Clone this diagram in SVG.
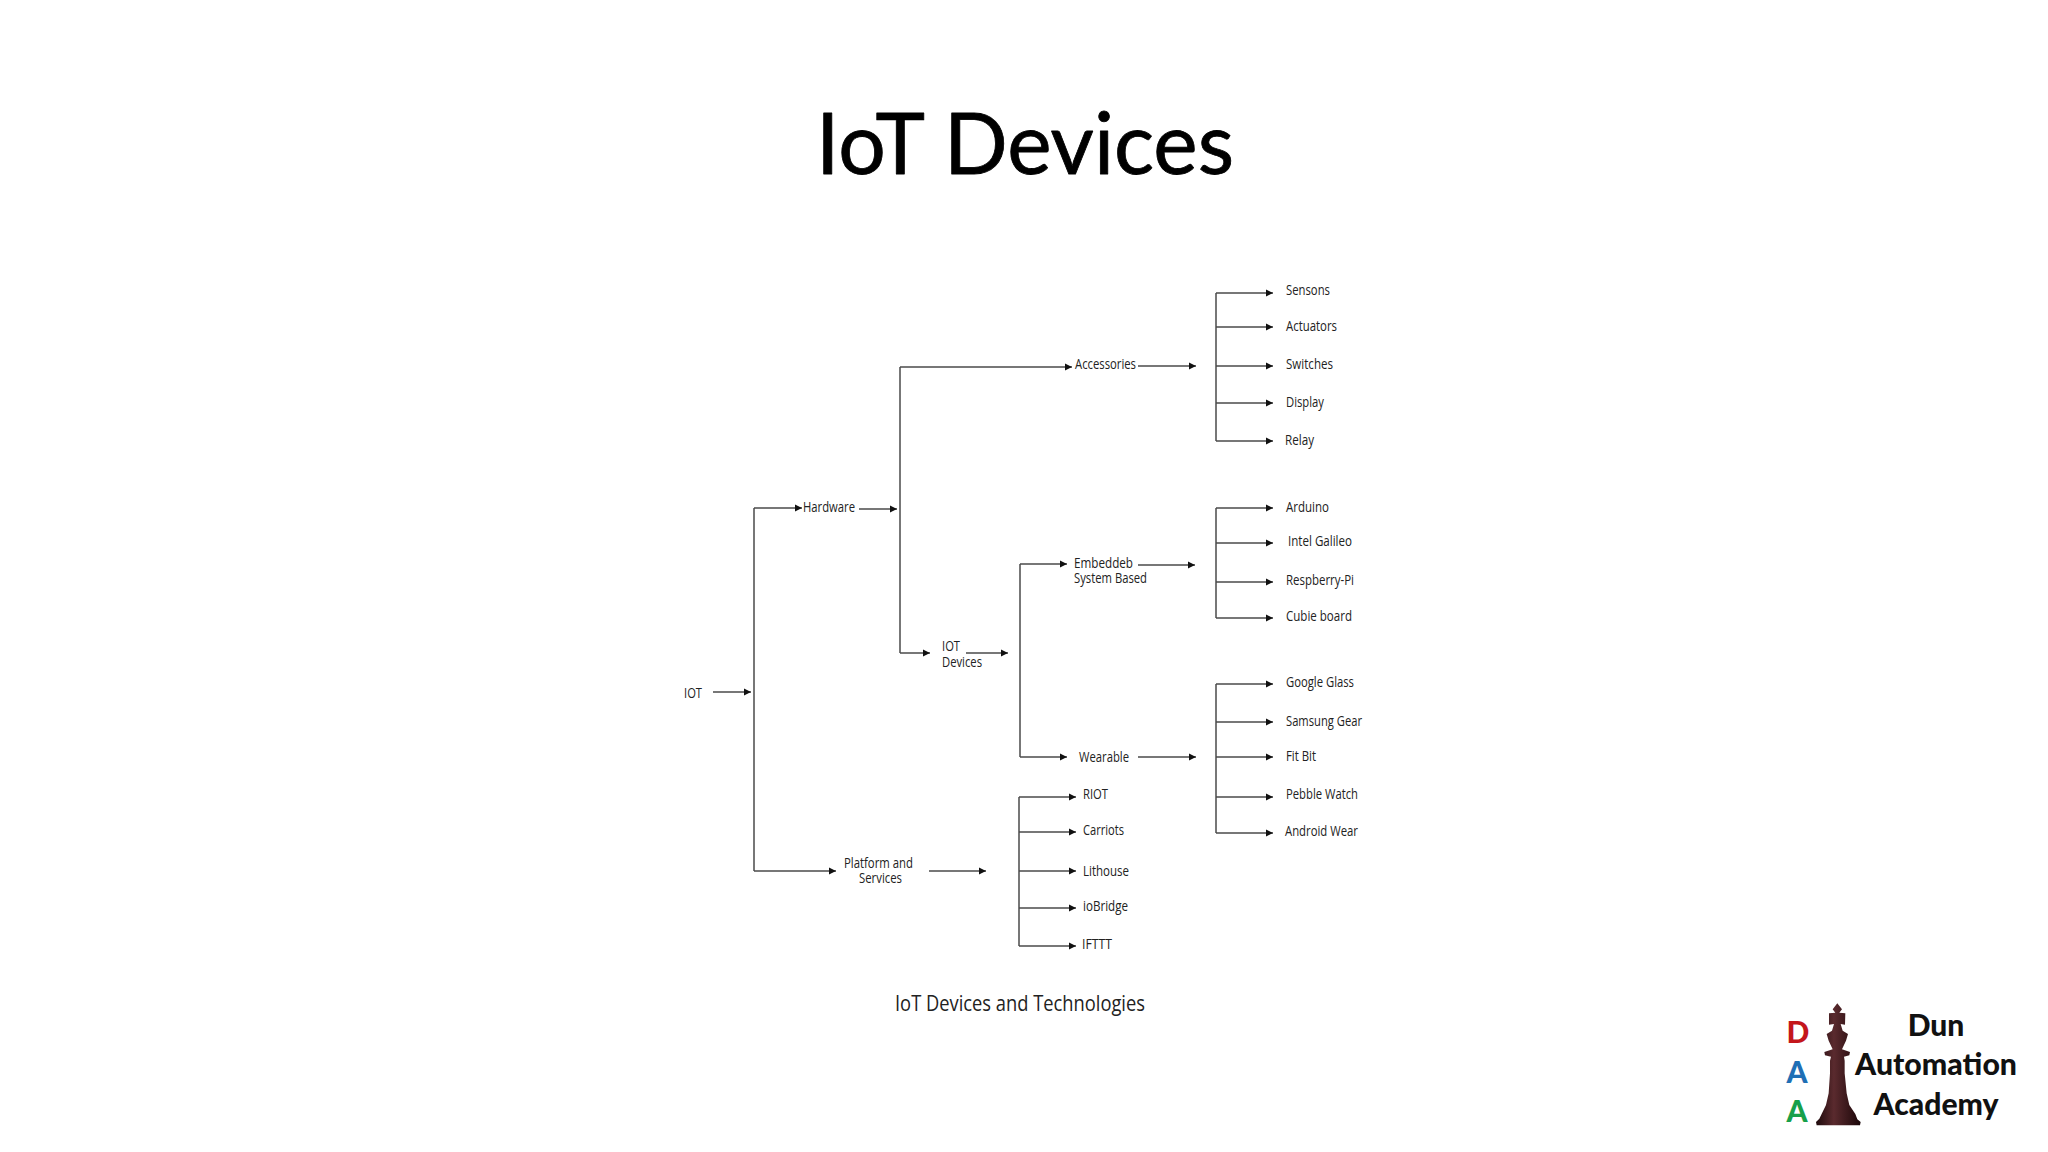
<svg xmlns="http://www.w3.org/2000/svg" width="2048" height="1152" viewBox="0 0 2048 1152">
<style>
.t{font-family:"Open Sans","Noto Sans",sans-serif;font-size:14px;fill:#222}
.title{font-family:Lato,"Open Sans",sans-serif;font-size:86px;fill:#000;stroke:#000;stroke-width:.8;stroke-linejoin:round}
.cap{font-family:"Open Sans",sans-serif;font-size:22px;fill:#222}
.lg{font-family:Lato,"Open Sans",sans-serif;font-size:30px;font-weight:900;fill:#111;text-anchor:middle}
.c line,.c path{fill:none;stroke:#4a4a4a;stroke-width:1.5}
.a{marker-end:url(#ah)}
</style>
<defs>
<marker id="ah" markerUnits="userSpaceOnUse" markerWidth="8" markerHeight="8" refX="7" refY="4" orient="auto"><path d="M0 .5L7 4L0 7.5Z" fill="#111"/></marker>
<linearGradient id="kg" x1="0" x2="1" y1="0" y2="0"><stop offset="0" stop-color="#1e0a0c"/><stop offset=".4" stop-color="#5a2a2e"/><stop offset="1" stop-color="#1a0608"/></linearGradient>
</defs>
<rect width="2048" height="1152" fill="#fff"/>
<text class="title" x="816" y="174" textLength="418" lengthAdjust="spacingAndGlyphs">IoT Devices</text>
<g class="c" id="connectors">
<line class="a" x1="713" y1="692" x2="751" y2="692"/>
<path d="M754 508V871"/>
<line class="a" x1="754" y1="508" x2="802" y2="508"/>
<line class="a" x1="754" y1="871" x2="836" y2="871"/>
<line class="a" x1="859" y1="509" x2="897" y2="509"/>
<path d="M900 367V653"/>
<line class="a" x1="900" y1="367" x2="1072" y2="367"/>
<line class="a" x1="900" y1="653" x2="930" y2="653"/>
<line class="a" x1="1138" y1="366" x2="1196" y2="366"/>
<path d="M1216 293V441"/>
<line class="a" x1="1216" y1="293" x2="1273" y2="293"/>
<line class="a" x1="1216" y1="327" x2="1273" y2="327"/>
<line class="a" x1="1216" y1="366" x2="1273" y2="366"/>
<line class="a" x1="1216" y1="403" x2="1273" y2="403"/>
<line class="a" x1="1216" y1="441" x2="1273" y2="441"/>
<line class="a" x1="966" y1="653" x2="1008" y2="653"/>
<path d="M1020 564V757"/>
<line class="a" x1="1020" y1="564" x2="1067" y2="564"/>
<line class="a" x1="1020" y1="757" x2="1067" y2="757"/>
<line class="a" x1="1138" y1="565" x2="1195" y2="565"/>
<path d="M1216 508V618"/>
<line class="a" x1="1216" y1="508" x2="1273" y2="508"/>
<line class="a" x1="1216" y1="543" x2="1273" y2="543"/>
<line class="a" x1="1216" y1="582" x2="1273" y2="582"/>
<line class="a" x1="1216" y1="618" x2="1273" y2="618"/>
<line class="a" x1="1138" y1="757" x2="1196" y2="757"/>
<path d="M1216 684V833"/>
<line class="a" x1="1216" y1="684" x2="1273" y2="684"/>
<line class="a" x1="1216" y1="722" x2="1273" y2="722"/>
<line class="a" x1="1216" y1="757" x2="1273" y2="757"/>
<line class="a" x1="1216" y1="797" x2="1273" y2="797"/>
<line class="a" x1="1216" y1="833" x2="1273" y2="833"/>
<line class="a" x1="929" y1="871" x2="986" y2="871"/>
<path d="M1019 797V946"/>
<line class="a" x1="1019" y1="797" x2="1076" y2="797"/>
<line class="a" x1="1019" y1="832" x2="1076" y2="832"/>
<line class="a" x1="1019" y1="871" x2="1076" y2="871"/>
<line class="a" x1="1019" y1="908" x2="1076" y2="908"/>
<line class="a" x1="1019" y1="946" x2="1076" y2="946"/>
</g>
<g id="n-iot"><text class="t" x="684" y="698" textLength="18" lengthAdjust="spacingAndGlyphs">IOT</text></g>
<g id="n-hardware"><text class="t" x="803" y="512" textLength="52" lengthAdjust="spacingAndGlyphs">Hardware</text></g>
<g id="n-accessories"><text class="t" x="1075" y="369" textLength="61" lengthAdjust="spacingAndGlyphs">Accessories</text></g>
<g id="n-iot-devices"><text class="t" x="942" y="651" textLength="18" lengthAdjust="spacingAndGlyphs">IOT</text><text class="t" x="942" y="667" textLength="40" lengthAdjust="spacingAndGlyphs">Devices</text></g>
<g id="n-embedded"><text class="t" x="1074" y="568" textLength="59" lengthAdjust="spacingAndGlyphs">Embeddeb</text><text class="t" x="1074" y="583" textLength="73" lengthAdjust="spacingAndGlyphs">System Based</text></g>
<g id="n-wearable"><text class="t" x="1079" y="762" textLength="50" lengthAdjust="spacingAndGlyphs">Wearable</text></g>
<g id="n-platform"><text class="t" x="844" y="868" textLength="69" lengthAdjust="spacingAndGlyphs">Platform and</text><text class="t" x="859" y="883" textLength="43" lengthAdjust="spacingAndGlyphs">Services</text></g>
<g id="n-sensons"><text class="t" x="1286" y="295" textLength="44" lengthAdjust="spacingAndGlyphs">Sensons</text></g>
<g id="n-actuators"><text class="t" x="1286" y="331" textLength="51" lengthAdjust="spacingAndGlyphs">Actuators</text></g>
<g id="n-switches"><text class="t" x="1286" y="369" textLength="47" lengthAdjust="spacingAndGlyphs">Switches</text></g>
<g id="n-display"><text class="t" x="1286" y="407" textLength="38" lengthAdjust="spacingAndGlyphs">Display</text></g>
<g id="n-relay"><text class="t" x="1285" y="445" textLength="29" lengthAdjust="spacingAndGlyphs">Relay</text></g>
<g id="n-arduino"><text class="t" x="1286" y="512" textLength="43" lengthAdjust="spacingAndGlyphs">Arduino</text></g>
<g id="n-galileo"><text class="t" x="1288" y="546" textLength="64" lengthAdjust="spacingAndGlyphs">Intel Galileo</text></g>
<g id="n-respberry"><text class="t" x="1286" y="585" textLength="68" lengthAdjust="spacingAndGlyphs">Respberry-Pi</text></g>
<g id="n-cubie"><text class="t" x="1286" y="621" textLength="66" lengthAdjust="spacingAndGlyphs">Cubie board</text></g>
<g id="n-glass"><text class="t" x="1286" y="687" textLength="68" lengthAdjust="spacingAndGlyphs">Google Glass</text></g>
<g id="n-gear"><text class="t" x="1286" y="726" textLength="76" lengthAdjust="spacingAndGlyphs">Samsung Gear</text></g>
<g id="n-fitbit"><text class="t" x="1286" y="761" textLength="30" lengthAdjust="spacingAndGlyphs">Fit Bit</text></g>
<g id="n-pebble"><text class="t" x="1286" y="799" textLength="72" lengthAdjust="spacingAndGlyphs">Pebble Watch</text></g>
<g id="n-android"><text class="t" x="1285" y="836" textLength="73" lengthAdjust="spacingAndGlyphs">Android Wear</text></g>
<g id="n-riot"><text class="t" x="1083" y="799" textLength="25" lengthAdjust="spacingAndGlyphs">RIOT</text></g>
<g id="n-carriots"><text class="t" x="1083" y="835" textLength="41" lengthAdjust="spacingAndGlyphs">Carriots</text></g>
<g id="n-lithouse"><text class="t" x="1083" y="876" textLength="46" lengthAdjust="spacingAndGlyphs">Lithouse</text></g>
<g id="n-iobridge"><text class="t" x="1083" y="911" textLength="45" lengthAdjust="spacingAndGlyphs">ioBridge</text></g>
<g id="n-ifttt"><text class="t" x="1082" y="949" textLength="30" lengthAdjust="spacingAndGlyphs">IFTTT</text></g>
<text class="cap" x="895" y="1011" textLength="250" lengthAdjust="spacingAndGlyphs">IoT Devices and Technologies</text>
<g id="logo">
<text class="lg" x="1798" y="1043" style="fill:#c4161c">D</text>
<text class="lg" x="1797" y="1083" style="fill:#1f6fb5">A</text>
<text class="lg" x="1797" y="1122" style="fill:#17a04a">A</text>
<path transform="translate(1770 990) scale(.3333)" fill="url(#kg)" d="M202 40L216 58L208 68L226 70L225 104L212 102L218 122L234 132L228 152L216 178L240 186L238 196L222 200L224 212L224 250L230 310L238 345L256 372L262 388L272 396L270 406L140 406L138 396L148 386L156 370L168 345L176 310L180 250L180 212L183 200L165 196L163 186L188 178L176 152L170 132L186 122L192 102L177 104L177 70L196 68L188 58Z"/>
<text class="lg" x="1936" y="1036">Dun</text>
<text class="lg" x="1936" y="1075" textLength="162" lengthAdjust="spacingAndGlyphs">Automation</text>
<text class="lg" x="1936" y="1115" textLength="125" lengthAdjust="spacingAndGlyphs">Academy</text>
</g>
</svg>
